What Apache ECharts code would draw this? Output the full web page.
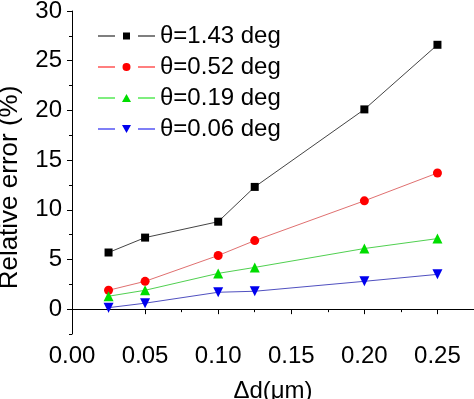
<!DOCTYPE html>
<html>
<head>
<meta charset="utf-8">
<title>Relative error</title>
<script src="https://cdn.jsdelivr.net/npm/echarts@6/dist/echarts.min.js"></script>
<style>
  *{margin:0;padding:0;}
  #chart{width:474px;height:399px;background:#fff;}
</style>
</head>
<body>
<div id="chart"></div>
<script>
// data
var dd = [0.025, 0.05, 0.1, 0.125, 0.2, 0.25];
var err143 = [5.7, 7.2, 8.8, 12.3, 20.1, 26.6];
var err052 = [1.9, 2.8, 5.4, 6.9, 10.9, 13.7];
var err019 = [1.3, 1.9, 3.6, 4.2, 6.1, 7.1];
var err006 = [0.15, 0.6, 1.7, 1.8, 2.8, 3.5];
var names = ['\u03b8=1.43 deg', '\u03b8=0.52 deg', '\u03b8=0.19 deg', '\u03b8=0.06 deg'];
var yTicks = [0, 5, 10, 15, 20, 25, 30];
var yMinor = [-2.5, 2.5, 7.5, 12.5, 17.5, 22.5, 27.5];
var xTicks = [0, 0.05, 0.1, 0.15, 0.2, 0.25];
var xMinor = [0.025, 0.075, 0.125, 0.175, 0.225, 0.275];

var font = 'Liberation Sans, Arial, sans-serif';

// origin style legend icons: line - marker - line
var seg = 'M0,4h17v1h-17z M40,4h17v1h-17z ';
var icons = [
  'path://' + seg + 'M25,1h7v7h-7z M0,0h0.01v9h-0.01z',
  'path://' + seg + 'M32.5,4.5a4,4 0 1,0 -8,0a4,4 0 1,0 8,0z M0,0h0.01v9h-0.01z',
  'path://' + seg + 'M28.5,0.5L33,8.5L24,8.5z M0,0h0.01v9h-0.01z',
  'path://' + seg + 'M24,0.5L33,0.5L28.5,8.5z M0,0h0.01v9h-0.01z'
];
var downTri = 'path://M0,0L10,0L5,9z';

function pairs(ys){
  return dd.map(function(x, i){ return [x, ys[i]]; });
}

function mkSeries(name, ys, color, lineColor, symbol, size){
  return {
    name: name,
    type: 'line',
    data: pairs(ys),
    symbol: symbol,
    symbolSize: size,
    itemStyle: {color: color},
    lineStyle: {color: lineColor, width: 1},
    animation: false
  };
}

var chart = echarts.init(document.getElementById('chart'));
chart.setOption({
  backgroundColor: '#fff',
  grid: {left: 72, top: 11, right: 0, bottom: 65, outerBoundsMode: 'none', containLabel: false},
  legend: {
    left: 98, top: 24, orient: 'vertical', padding: 0,
    itemWidth: 57, itemHeight: 9, itemGap: 7,
    textStyle: {fontSize: 24, fontFamily: font, color: '#000', lineHeight: 24},
    data: names.map(function(n, i){ return {name: n, icon: icons[i]}; })
  },
  xAxis: [{
    type: 'value', min: 0, max: 0.275,
    name: '\u0394d(\u03bcm)', nameLocation: 'middle', nameGap: 45,
    nameTextStyle: {fontSize: 24, fontFamily: font, color: '#000'},
    axisLine: {show: true, lineStyle: {color: '#000', width: 1}},
    axisTick: {show: true, length: 5, customValues: xTicks, lineStyle: {color: '#000'}},
    axisLabel: {customValues: xTicks, fontSize: 24, fontFamily: font, color: '#000', margin: 10,
      formatter: function(v){ return v.toFixed(2); }},
    splitLine: {show: false}
  }, {
    type: 'value', min: 0, max: 0.275, position: 'bottom',
    axisLine: {show: false},
    axisTick: {show: true, length: 3, customValues: xMinor, lineStyle: {color: '#000'}},
    axisLabel: {show: false},
    splitLine: {show: false}
  }],
  yAxis: [{
    type: 'value', min: -2.5, max: 30,
    name: 'Relative error (%)', nameLocation: 'middle', nameGap: 49,
    nameTextStyle: {fontSize: 26, fontFamily: font, color: '#000', padding: [0, 30, 0, 0]},
    axisLine: {show: true, lineStyle: {color: '#000', width: 1}},
    axisTick: {show: true, length: 5, customValues: yTicks, lineStyle: {color: '#000'}},
    axisLabel: {customValues: yTicks, fontSize: 24, fontFamily: font, color: '#000', margin: 10},
    splitLine: {show: false}
  }, {
    type: 'value', min: -2.5, max: 30, position: 'left',
    axisLine: {show: false},
    axisTick: {show: true, length: 3, customValues: yMinor, lineStyle: {color: '#000'}},
    axisLabel: {show: false},
    splitLine: {show: false}
  }],
  series: [
    mkSeries(names[0], err143, '#000', '#444', 'rect', 8),
    mkSeries(names[1], err052, '#f00', '#e07070', 'circle', 9),
    mkSeries(names[2], err019, '#0d0', '#50d050', 'triangle', 10),
    mkSeries(names[3], err006, '#00e', '#5050c0', downTri, 10)
  ]
});
</script>
</body>
</html>
